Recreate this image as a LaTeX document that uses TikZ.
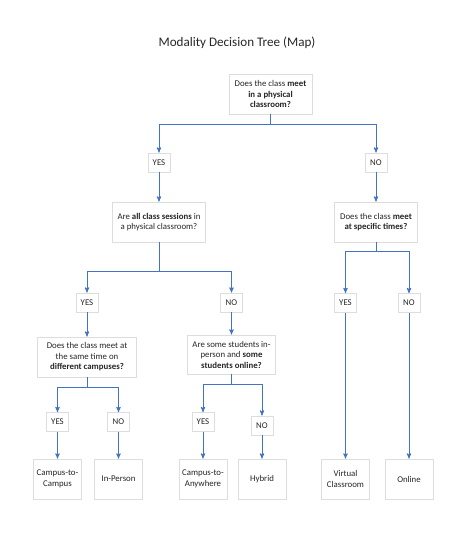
\documentclass[tikz,border=0pt]{standalone}
\usepackage{fontspec}
\setmainfont{Carlito}
\usepackage{tikz}
\usetikzlibrary{arrows}
\usetikzlibrary{calc}
\definecolor{linkblue}{HTML}{4472C4}
\definecolor{boxgray}{HTML}{DDDDDD}

\begin{document}
\begin{tikzpicture}[x=1pt,y=-1pt]
            \useasboundingbox (0,0) rectangle (474,544);
            \begin{scope}[>=stealth',shorten >=0pt,
              every node/.style={font=\fontsize{8.8}{10.5}\selectfont,text=black!85},
              box node/.style={rectangle,draw=boxgray,line width=0.8pt,fill=white,align=center,inner sep=2pt},
              ask node/.style={box node,minimum height=40pt},
              ans node/.style={box node,minimum width=22pt,minimum height=19pt},
              end node/.style={box node,minimum width=48pt,minimum height=40pt},
              bus/.style={draw=linkblue,line width=0.9pt},
              link/.style={bus,->}]
            \node[font=\fontsize{13.1}{15}\selectfont] (title) at (237,43) {Modality Decision Tree (Map)};
            % questions
            \node[ask node,minimum width=83pt] (root) at (270.5,94) {Does the class \textbf{meet}\\\textbf{in a physical}\\\textbf{classroom?}};
            \node[ask node,minimum width=93pt] (q2) at (159,222) {Are \textbf{all class sessions} in\\a physical classroom?};
            \node[ask node,minimum width=83pt] (q3) at (376,222) {Does the class \textbf{meet}\\\textbf{at specific times?}};
            \node[ask node,minimum width=99pt] (q4) at (87,357) {Does the class meet at\\the same time on\\\textbf{different campuses?}};
            \node[ask node,minimum width=88pt,minimum height=39pt] (q5) at (231.5,354.5) {Are some students in-\\person and \textbf{some}\\\textbf{students online?}};
            % answers
            \node[ans node] (y1) at (159,162.5) {YES};
            \node[ans node] (n1) at (376,162.5) {NO};
            \node[ans node] (y2) at (87,302.5) {YES};
            \node[ans node] (n2) at (231.5,302.5) {NO};
            \node[ans node] (y3) at (57.5,422) {YES};
            \node[ans node] (n3) at (118.5,422) {NO};
            \node[ans node] (y4) at (203,422) {YES};
            \node[ans node] (n4) at (262,425.5) {NO};
            \node[ans node] (y5) at (345.5,303) {YES};
            \node[ans node] (n5) at (409,303) {NO};
            % modalities
            \node[end node] (e1) at (57.5,479) {Campus-to-\\Campus};
            \node[end node] (e2) at (118.5,479) {In-Person};
            \node[end node] (e3) at (203,479) {Campus-to-\\Anywhere};
            \node[end node] (e4) at (262,479) {Hybrid};
            \node[end node] (e5) at (345.5,479) {Virtual\\Classroom};
            \node[end node] (e6) at (409,479) {Online};
            % branch points
            \coordinate (b1) at ($(root.south)+(0,10.5)$);
            \coordinate (b2) at ($(q2.south)+(0,29.5)$);
            \coordinate (b3) at ($(q3.south)+(0,9.5)$);
            \coordinate (b4) at ($(q4.south)+(0,10.5)$);
            \coordinate (b5) at ($(q5.south)+(0,10)$);
            % connectors
            \draw[bus] (root.south) -- (b1);
            \draw[link] (b1) -| (y1.north);
            \draw[link] (b1) -| (n1.north);
            \draw[link] (y1) -- (q2);
            \draw[link] (n1) -- (q3);
            \draw[bus] (q2.south) -- (b2);
            \draw[link] (b2) -| (y2.north);
            \draw[link] (b2) -| (n2.north);
            \draw[bus] (q3.south) -- (b3);
            \draw[link] (b3) -| (y5.north);
            \draw[link] (b3) -| (n5.north);
            \draw[link] (y2) -- (q4);
            \draw[link] (n2) -- (q5);
            \draw[bus] (q4.south) -- (b4);
            \draw[link] (b4) -| (y3.north);
            \draw[link] (b4) -| (n3.north);
            \draw[bus] (q5.south) -- (b5);
            \draw[link] (b5) -| (y4.north);
            \draw[link] (b5) -| (n4.north);
            \draw[link] (y3) -- (e1);
            \draw[link] (n3) -- (e2);
            \draw[link] (y4) -- (e3);
            \draw[link] (n4) -- (e4);
            \draw[link] (y5) -- (e5);
            \draw[link] (n5) -- (e6);
            \end{scope}
        \end{tikzpicture}
\end{document}
